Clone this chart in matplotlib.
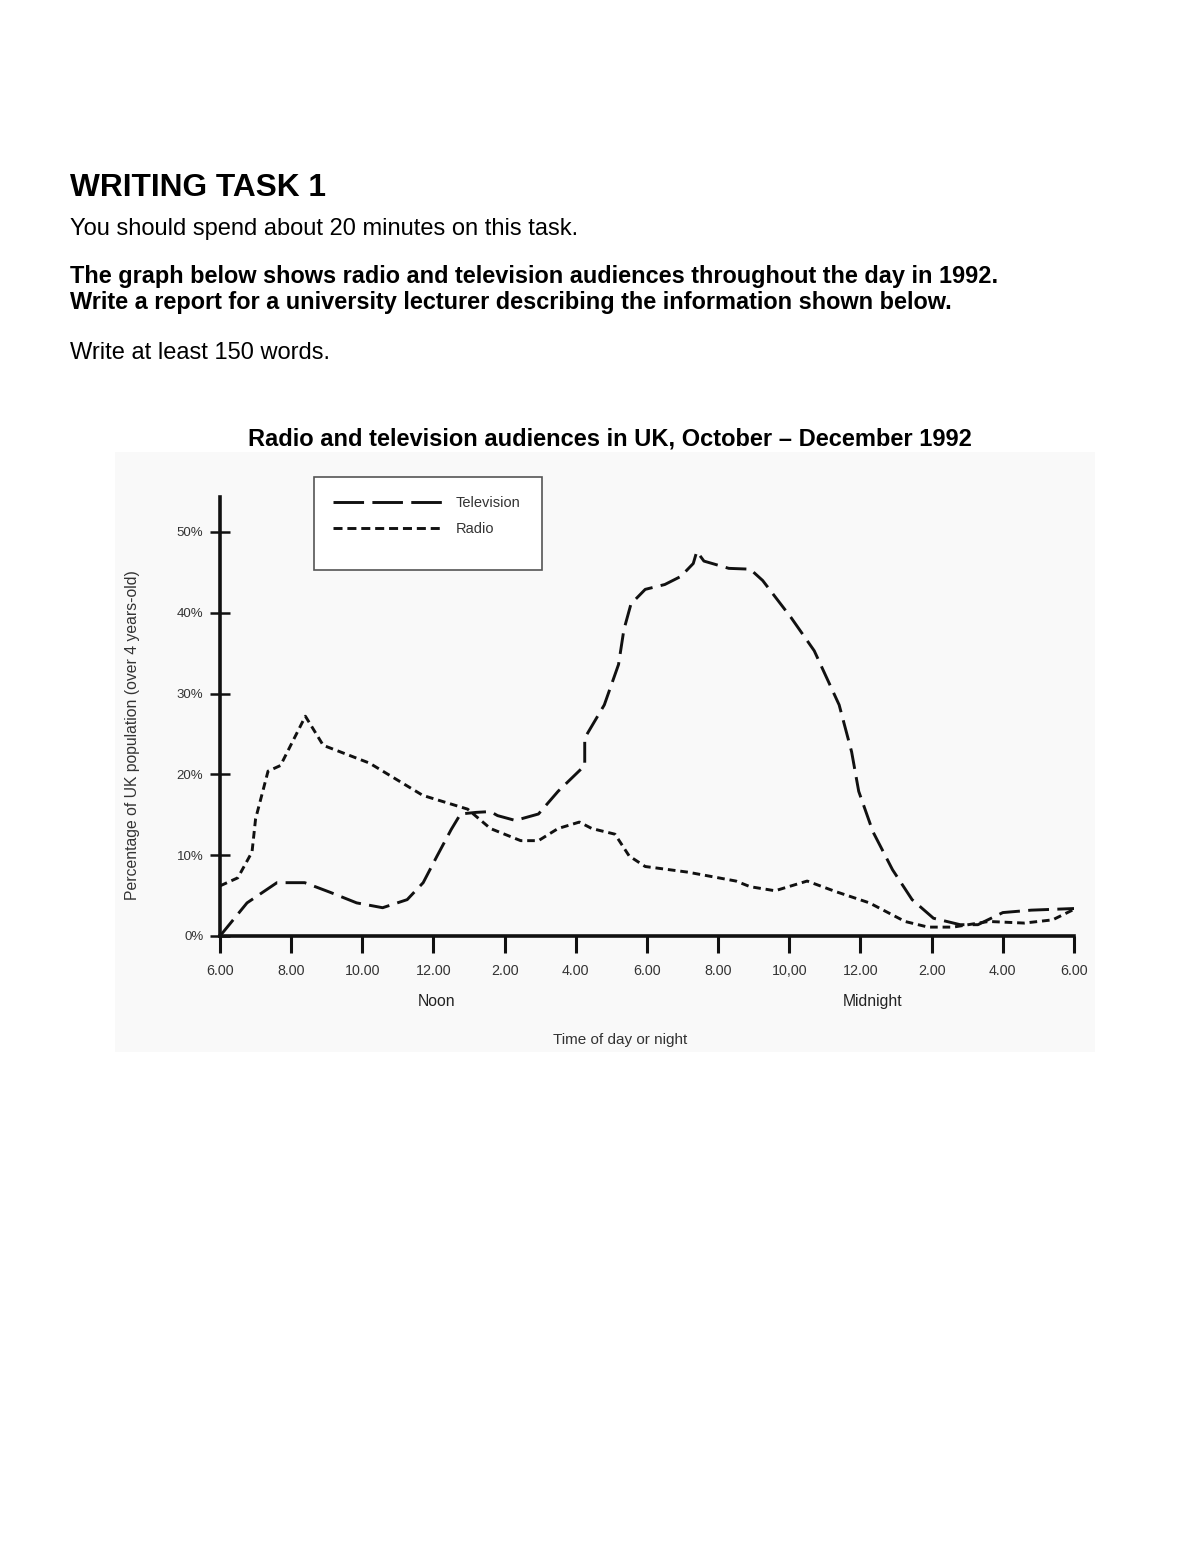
import matplotlib
matplotlib.use('Agg')
import matplotlib.pyplot as plt
from matplotlib.patches import Rectangle

plt.rcParams['font.family'] = ['Liberation Sans', 'DejaVu Sans']
plt.rcParams['lines.scale_dashes'] = False

# hours after 6.00 am, audience in % of UK population (over 4)
tv_hours = [0, 0.76, 1.6, 2.38, 3.1, 3.84, 4.57, 5.26, 5.71, 6.1, 6.5, 6.76, 7.2, 7.6,
            7.8, 8.3, 8.95, 9.5, 10.25, 10.25, 10.8, 11.2, 11.35, 11.55, 11.95, 12.5,
            12.95, 13.3, 13.4, 13.6, 14.3, 14.9, 15.25, 16.05, 16.7, 17.4, 17.75, 17.95,
            18.35, 18.9, 19.45, 20.05, 20.8, 21.3, 22.0, 22.8, 24]
tv_pct = [0, 4.1, 6.6, 6.6, 5.4, 4.1, 3.5, 4.5, 6.6, 9.9, 13.2, 15.1, 15.3, 15.4,
          14.9, 14.3, 15.1, 17.9, 21.1, 24.5, 28.6, 33.6, 37.9, 41.1, 42.9, 43.5,
          44.5, 46.1, 47.6, 46.4, 45.5, 45.4, 44.0, 39.4, 35.3, 28.6, 22.8, 17.9,
          12.9, 8.2, 4.5, 2.2, 1.4, 1.4, 2.9, 3.2, 3.4]

radio_hours = [0, 0.5, 0.9, 1.0, 1.35, 1.7, 2.4, 2.9, 4.2, 5.7, 6.96, 7.6, 8.45, 8.95,
               9.5, 10.1, 10.45, 11.1, 11.5, 11.95, 13.15, 14.5, 14.9, 15.6, 16.5, 17.3,
               18.25, 19.25, 19.9, 20.6, 21.6, 22.6, 23.4, 24]
radio_pct = [6.2, 7.2, 10.4, 14.5, 20.4, 21.1, 27.2, 23.6, 21.4, 17.4, 15.7, 13.3, 11.8, 11.8,
             13.3, 14.1, 13.3, 12.6, 9.9, 8.6, 7.9, 6.8, 6.1, 5.6, 6.8, 5.5,
             4.1, 1.8, 1.1, 1.1, 1.8, 1.6, 2.0, 3.3]

tick_hours = [0, 2, 4, 6, 8, 10, 12, 14, 16, 18, 20, 22, 24]
tick_labels = ['6.00', '8.00', '10.00', '12.00', '2.00', '4.00', '6.00',
               '8.00', '10,00', '12.00', '2.00', '4.00', '6.00']
y_ticks = [0, 10, 20, 30, 40, 50]
y_labels = ['0%', '10%', '20%', '30%', '40%', '50%']

W, H = 1200, 1553
fig = plt.figure(figsize=(W / 100, H / 100), dpi=100)

def fx(px):
    return px / W

def fy(py):
    return 1 - py / H

# page text
fig.text(fx(70), fy(188), 'WRITING TASK 1', fontsize=22.8, fontweight='bold', va='center')
fig.text(fx(70), fy(229), 'You should spend about 20 minutes on this task.', fontsize=17, va='center')
fig.text(fx(70), fy(276), 'The graph below shows radio and television audiences throughout the day in 1992.',
         fontsize=16.9, fontweight='bold', va='center')
fig.text(fx(70), fy(303), 'Write a report for a university lecturer describing the information shown below.',
         fontsize=16.9, fontweight='bold', va='center')
fig.text(fx(70), fy(353), 'Write at least 150 words.', fontsize=17, va='center')
fig.text(fx(610), fy(439), 'Radio and television audiences in UK, October \u2013 December 1992',
         fontsize=17, fontweight='bold', va='center', ha='center')

# faint scanned background behind the chart
fig.patches.append(Rectangle((fx(115), fy(1052)), fx(980), 600 / H, transform=fig.transFigure,
                             facecolor='#f9f9f9', edgecolor='none', zorder=-2))
# legend box
fig.patches.append(Rectangle((fx(314), fy(570)), fx(228), 93 / H, transform=fig.transFigure,
                             facecolor='white', edgecolor='#555555', lw=1.2, zorder=-1))

ax = fig.add_axes([fx(220), fy(936), fx(854), (936 - 497) / H])
ax.set_facecolor('none')
ax.set_zorder(2)

ax.plot(tv_hours, tv_pct, color='#111111', lw=2.1, dashes=(15, 6), label='Television')
ax.plot(radio_hours, radio_pct, color='#111111', lw=2.1, dashes=(5.5, 3.5), label='Radio')

ax.set_xlim(0, 24)
ax.set_ylim(0, (936 - 497) / 8.08)
for s in ['top', 'right']:
    ax.spines[s].set_visible(False)
for s in ['left', 'bottom']:
    ax.spines[s].set_linewidth(2.6)
    ax.spines[s].set_color('#111111')

ax.set_xticks(tick_hours)
ax.set_xticklabels(tick_labels, fontsize=10.3, color='#333333')
ax.tick_params(axis='x', direction='out', length=12, width=2.2, pad=8, colors='#111111',
               labelcolor='#333333')
ax.set_yticks(y_ticks)
ax.set_yticklabels(y_labels, fontsize=9.5, color='#333333')
ax.tick_params(axis='y', direction='inout', length=14, width=1.8, pad=5, colors='#111111',
               labelcolor='#333333')

fig.text(fx(620), fy(1040), 'Time of day or night', fontsize=11, color='#333333',
         ha='center', va='center')
fig.text(fx(132), fy(735), 'Percentage of UK population (over 4 years-old)', fontsize=11.3,
         color='#333333', rotation=90, ha='center', va='center')
fig.text(fx(437), fy(1002), 'Noon', fontsize=11.3, color='#222222', ha='center', va='center')
fig.text(fx(873), fy(1002), 'Midnight', fontsize=11.3, color='#222222', ha='center', va='center')

leg = fig.legend(loc='upper left', bbox_to_anchor=(fx(333), fy(496)), frameon=False,
                 fontsize=10.5, handlelength=7.6, handletextpad=0.8, labelspacing=0.85,
                 borderpad=0, borderaxespad=0)
leg.get_lines()[0].set_dashes((22, 6))
leg.get_lines()[1].set_dashes((6.5, 3.5))
for t in leg.get_texts():
    t.set_color('#333333')

fig.savefig('out.png', dpi=100)
